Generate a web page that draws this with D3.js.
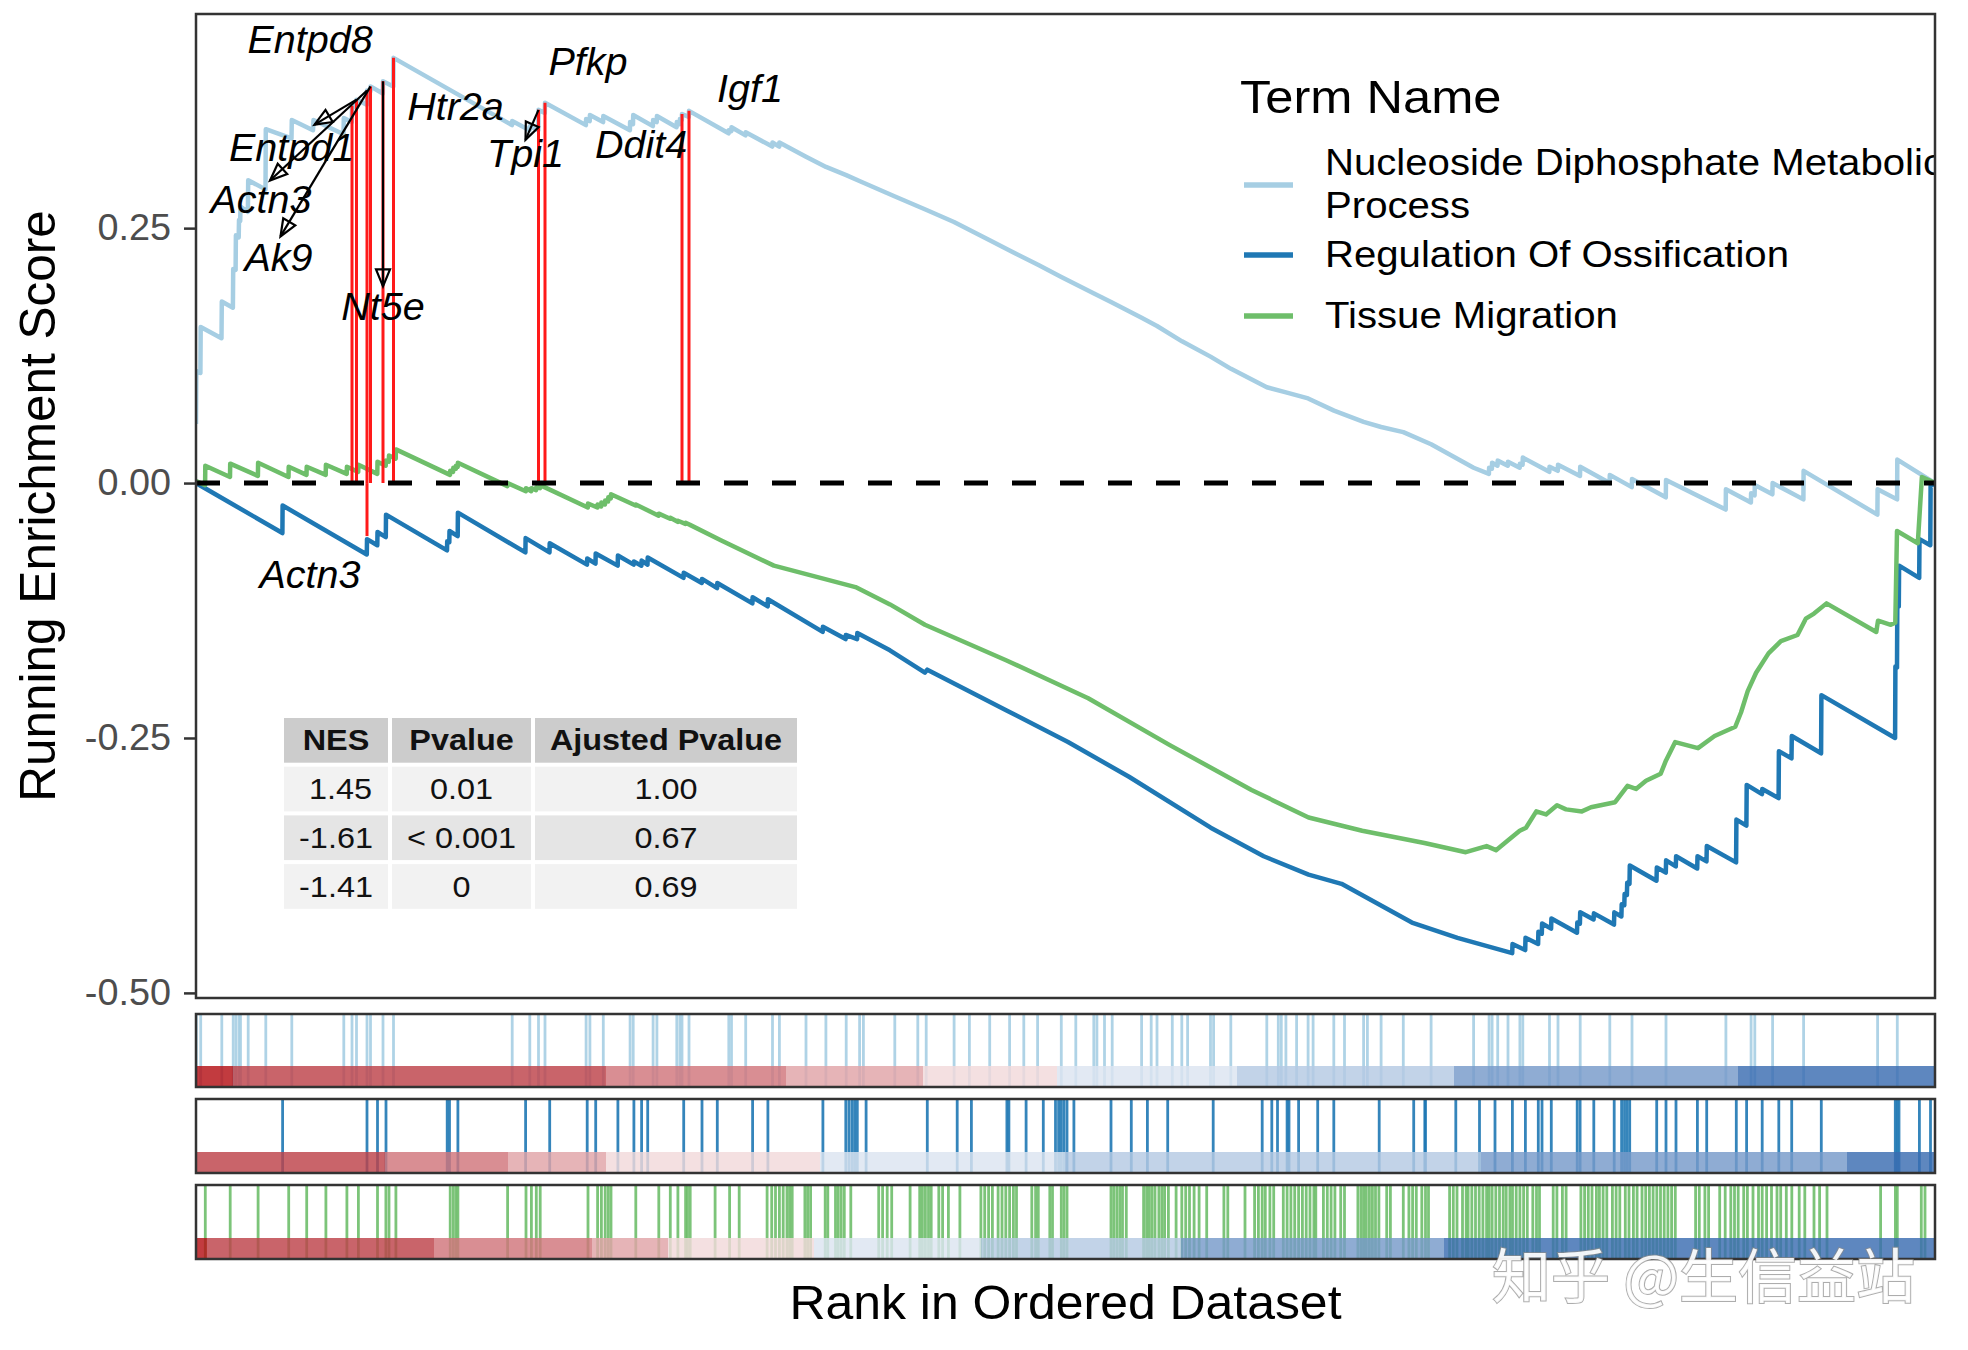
<!DOCTYPE html>
<html><head><meta charset="utf-8">
<script src="https://cdn.jsdelivr.net/npm/d3@7"></script>
<style>
html,body{margin:0;padding:0;background:#fff;}
svg{display:block;font-family:"Liberation Sans",Arial,Helvetica,sans-serif;}
</style></head><body>
<svg id="chart" width="1968" height="1350"></svg>
<script>
// ---------------- DATA ----------------
const rankCount = 17390;
const yTicks = [-0.5, -0.25, 0, 0.25];
const termNames = ["Nucleoside Diphosphate Metabolic Process", "Regulation Of Ossification", "Tissue Migration"];
const legendLines = [["Nucleoside Diphosphate Metabolic", "Process"], ["Regulation Of Ossification"], ["Tissue Migration"]];

// running enrichment score: [rank, ES]
const esNucleoside = [[0,0.058],[3,0.110],[44,0.108],[47,0.153],[255,0.142],[258,0.178],[369,0.172],[372,0.210],[396,0.209],[399,0.243],[427,0.241],[430,0.258],[442,0.257],[445,0.271],[519,0.266],[522,0.297],[695,0.288],[698,0.347],[955,0.338],[958,0.356],[1170,0.346],[1175,0.356],[1475,0.342],[1478,0.358],[1558,0.354],[1560,0.370],[1603,0.368],[1605,0.376],[1708,0.371],[1710,0.385],[1743,0.384],[1745,0.389],[1868,0.382],[1870,0.394],[1973,0.389],[1975,0.417],[3160,0.351],[3162,0.355],[3336,0.346],[3338,0.350],[3423,0.346],[3425,0.366],[3488,0.363],[3490,0.373],[3899,0.351],[3901,0.357],[3937,0.355],[3939,0.361],[4071,0.354],[4073,0.360],[4339,0.346],[4341,0.354],[4370,0.352],[4372,0.361],[4569,0.350],[4571,0.356],[4607,0.354],[4609,0.360],[4806,0.349],[4808,0.354],[4837,0.352],[4839,0.357],[4858,0.356],[4860,0.362],[4928,0.359],[4930,0.365],[5326,0.343],[5328,0.346],[5353,0.345],[5355,0.349],[5495,0.341],[5497,0.344],[5763,0.330],[5765,0.334],[5832,0.330],[5834,0.334],[6100,0.320],[6300,0.310],[6502,0.302],[6640,0.296],[6990,0.281],[7300,0.268],[7580,0.256],[7937,0.238],[8136,0.228],[8420,0.214],[8653,0.202],[8980,0.186],[9160,0.177],[9456,0.162],[9610,0.154],[9860,0.139],[10145,0.124],[10350,0.112],[10708,0.094],[10900,0.089],[11121,0.083],[11380,0.071],[11676,0.060],[11851,0.055],[12073,0.050],[12351,0.038],[12776,0.015],[12929,0.009],[12931,0.015],[12959,0.014],[12961,0.020],[13015,0.017],[13017,0.022],[13118,0.017],[13120,0.021],[13237,0.015],[13239,0.019],[13266,0.018],[13268,0.025],[13533,0.011],[13535,0.016],[13618,0.012],[13620,0.018],[13840,0.007],[13842,0.016],[14136,0.000],[14138,0.008],[14358,-0.004],[14360,0.004],[14698,-0.014],[14700,0.003],[15297,-0.026],[15299,-0.006],[15549,-0.019],[15551,-0.010],[15586,-0.012],[15588,-0.002],[15764,-0.011],[15766,0.000],[16074,-0.016],[16076,0.012],[16814,-0.031],[16816,-0.006],[17011,-0.016],[17013,0.023],[17390,0.0]];

const esOssification = [[0,0.0],[864,-0.049],[866,-0.022],[1708,-0.070],[1710,-0.055],[1813,-0.061],[1815,-0.048],[1898,-0.053],[1900,-0.031],[2510,-0.066],[2512,-0.057],[2533,-0.058],[2535,-0.047],[2617,-0.052],[2619,-0.029],[3294,-0.068],[3296,-0.054],[3535,-0.068],[3537,-0.059],[3910,-0.080],[3912,-0.074],[3995,-0.079],[3997,-0.069],[4217,-0.081],[4219,-0.071],[4377,-0.080],[4379,-0.077],[4454,-0.081],[4456,-0.076],[4515,-0.080],[4517,-0.073],[4875,-0.093],[4877,-0.088],[5058,-0.098],[5060,-0.094],[5211,-0.103],[5213,-0.098],[5564,-0.118],[5566,-0.112],[5717,-0.121],[5719,-0.114],[6267,-0.146],[6269,-0.141],[6496,-0.153],[6498,-0.149],[6611,-0.153],[6613,-0.147],[6939,-0.164],[7289,-0.186],[7313,-0.183],[8106,-0.223],[8720,-0.254],[9330,-0.288],[10147,-0.338],[10677,-0.366],[11126,-0.384],[11455,-0.393],[12159,-0.431],[12615,-0.446],[13162,-0.461],[13165,-0.452],[13292,-0.458],[13295,-0.446],[13421,-0.452],[13424,-0.440],[13458,-0.442],[13461,-0.432],[13551,-0.437],[13554,-0.427],[13810,-0.441],[13813,-0.431],[13839,-0.432],[13842,-0.421],[13976,-0.428],[13979,-0.422],[14180,-0.433],[14183,-0.421],[14254,-0.425],[14257,-0.413],[14283,-0.414],[14286,-0.403],[14309,-0.404],[14312,-0.392],[14335,-0.393],[14338,-0.375],[14605,-0.390],[14608,-0.377],[14698,-0.382],[14701,-0.370],[14798,-0.376],[14801,-0.366],[15012,-0.378],[15015,-0.366],[15105,-0.371],[15108,-0.356],[15401,-0.372],[15404,-0.330],[15504,-0.336],[15507,-0.296],[15660,-0.305],[15663,-0.300],[15826,-0.309],[15829,-0.263],[15955,-0.270],[15958,-0.248],[16251,-0.265],[16254,-0.208],[16991,-0.250],[16994,-0.180],[17010,-0.181],[17013,-0.120],[17028,-0.121],[17031,-0.081],[17232,-0.093],[17235,-0.055],[17343,-0.061],[17346,-0.003],[17390,0.0]];

const esMigration = [[0,0.002],[91,-0.002],[93,0.017],[340,0.006],[342,0.019],[619,0.007],[621,0.020],[925,0.006],[927,0.016],[1105,0.008],[1107,0.016],[1297,0.008],[1299,0.018],[1507,0.009],[1509,0.016],[1622,0.011],[1624,0.018],[1813,0.009],[1815,0.021],[1897,0.017],[1899,0.022],[1928,0.021],[1930,0.027],[1997,0.024],[1999,0.033],[2540,0.008],[2542,0.012],[2571,0.011],[2573,0.015],[2598,0.014],[2600,0.017],[2617,0.016],[2619,0.020],[3114,-0.003],[3116,0.000],[3298,-0.008],[3300,-0.005],[3352,-0.008],[3354,-0.005],[3401,-0.007],[3403,-0.004],[3440,-0.005],[3442,-0.002],[3918,-0.024],[3920,-0.020],[4014,-0.024],[4016,-0.021],[4052,-0.023],[4054,-0.019],[4090,-0.021],[4092,-0.017],[4121,-0.018],[4123,-0.014],[4148,-0.015],[4150,-0.011],[4396,-0.022],[4398,-0.021],[4626,-0.032],[4628,-0.030],[4741,-0.035],[4743,-0.034],[4817,-0.038],[4819,-0.037],[4894,-0.040],[4896,-0.039],[4940,-0.041],[5248,-0.056],[5779,-0.081],[6595,-0.102],[6940,-0.119],[7289,-0.139],[8106,-0.174],[8922,-0.211],[9738,-0.257],[10555,-0.301],[11126,-0.328],[11662,-0.341],[12284,-0.353],[12698,-0.362],[12906,-0.356],[13000,-0.360],[13100,-0.352],[13237,-0.341],[13300,-0.338],[13403,-0.322],[13500,-0.325],[13610,-0.316],[13700,-0.320],[13859,-0.322],[13950,-0.318],[14191,-0.313],[14315,-0.297],[14400,-0.300],[14500,-0.292],[14647,-0.285],[14700,-0.272],[14792,-0.254],[15020,-0.260],[15186,-0.248],[15393,-0.239],[15450,-0.225],[15517,-0.204],[15601,-0.186],[15725,-0.167],[15849,-0.155],[16015,-0.149],[16098,-0.133],[16180,-0.128],[16305,-0.118],[16803,-0.146],[16820,-0.135],[16948,-0.139],[16993,-0.137],[17010,-0.047],[17218,-0.059],[17259,0.006],[17390,0.0]];

// gene-set member positions (ranks)
const hitsNucleoside = [3,47,258,372,399,430,445,522,698,958,1478,1560,1605,1710,1745,1870,1975,3162,3338,3425,3490,3901,3939,4073,4341,4372,4571,4609,4808,4839,4860,4930,5328,5355,5497,5765,5834,6100,6299,6502,6636,6674,6988,7218,7302,7581,7734,7937,8136,8278,8416,8653,8798,8978,9009,9085,9162,9456,9552,9610,9763,9858,9916,10145,10176,10348,10708,10823,10853,10899,11006,11121,11171,11378,11485,11676,11714,11851,12073,12351,12776,12931,12961,13017,13120,13239,13268,13535,13620,13842,14138,14360,14700,15299,15551,15588,15766,16076,16816,17013];
const hitsOssification = [866,1710,1815,1900,2512,2535,2619,3296,3537,3912,3997,4219,4379,4456,4517,4877,5060,5213,5566,5719,6269,6498,6529,6559,6586,6613,6701,7313,7612,7754,8109,8129,8301,8473,8595,8626,8653,8680,8710,8779,9150,9353,9514,9717,10172,10662,10758,10815,10911,10930,11026,11217,11378,11832,12177,12288,12295,12598,12835,12990,13164,13294,13423,13460,13553,13812,13841,13978,14182,14256,14285,14311,14337,14607,14700,14800,15014,15107,15403,15506,15662,15828,15957,16253,16993,17012,17030,17234,17345];
const hitsMigration = [93,342,621,927,1107,1299,1509,1624,1815,1899,1930,1999,2542,2573,2600,2619,3116,3300,3354,3403,3442,3920,4016,4054,4092,4123,4150,4398,4628,4743,4819,4896,4915,4942,5191,5336,5432,5711,5757,5795,5834,5872,5910,5936,5962,6089,6116,6146,6292,6318,6395,6422,6452,6483,6548,6827,6866,6912,6957,7141,7237,7264,7294,7325,7352,7428,7466,7524,7639,7849,7887,7926,7964,8021,8060,8098,8136,8174,8205,8358,8396,8423,8538,8565,8653,8680,8710,9150,9177,9208,9238,9265,9303,9476,9506,9533,9560,9590,9629,9659,9686,9724,9801,9858,9897,9935,9981,10031,10107,10279,10318,10490,10586,10624,10662,10693,10739,10777,10873,10911,10949,10987,11026,11064,11102,11140,11179,11198,11274,11313,11351,11389,11447,11485,11619,11650,11676,11703,11734,11764,11795,11829,11907,11944,12073,12129,12166,12203,12258,12295,12325,12536,12573,12610,12665,12702,12721,12758,12795,12832,12869,12906,12931,12961,12998,13035,13072,13102,13139,13165,13202,13239,13276,13313,13368,13405,13435,13572,13609,13664,13701,13849,13886,13923,13960,14004,14034,14071,14108,14164,14201,14238,14293,14330,14374,14411,14460,14497,14534,14571,14608,14645,14682,14719,14756,14793,14996,15033,15089,15126,15237,15292,15348,15385,15422,15477,15514,15570,15625,15662,15706,15755,15810,15847,15903,15958,16032,16088,16180,16236,16310,16846,16994,17013,17253,17290];

// rank heat-strip bins: breaks (ranks) and colour level per bin
const heatBreaksNucleoside = [0,376,4100,5900,7270,8610,10410,12580,15420,17390];
const heatLevelsNucleoside = [1,2,3,4,5,6,7,8,9];
const heatBreaksOssification = [0,1890,3120,4100,6240,8690,12850,16510,17390];
const heatLevelsOssification = [2,3,4,5,6,7,8,9];
const heatBreaksMigration = [0,110,2380,3960,4720,6180,7850,9850,12480,17390];
const heatLevelsMigration = [1,2,3,4,5,6,7,8,9];

// labelled genes
const geneNames = ["Entpd8","Entpd1","Actn3","Ak9","Nt5e","Htr2a","Tpi1","Pfkp","Ddit4","Igf1","Actn3"];
const geneRanks = [1560,1605,1710,1745,1870,1975,3425,3490,4860,4930,1710];
const geneES    = [0.370,0.376,0.385,0.389,0.394,0.417,0.366,0.373,0.362,0.365,-0.052];
const geneSet   = [0,0,0,0,0,0,0,0,0,0,1];

// statistics table
const tableHeader = ["NES","Pvalue","Ajusted Pvalue"];
const nesValues = [" 1.45","-1.61","-1.41"];
const pValues = ["0.01","< 0.001","0"];
const padjValues = ["1.00","0.67","0.69"];

// ---------------- STYLE / LAYOUT ----------------
const termColors = ["#A6CEE3","#1F78B4","#6EBE6A"];
const heatPalette = {1:"#C23B3F",2:"#C9646A",3:"#D98E93",4:"#E6B4B7",5:"#F4E0E1",6:"#E2E9F3",7:"#C2D3E8",8:"#8FACD3",9:"#5E87BF"};
const P = {left:196, right:1935, top:14, bottom:998};
const rugPanels = [{top:1014,bottom:1087},{top:1099,bottom:1173},{top:1185,bottom:1259}];
const stripH = 21;
const labelOffsets = [[-42,-53],[-65,61],[-106,123],[-92,185],[0,239],[62,62],[-13,57],[43,-28],[-41,44],[61,-9],[-57,52]];
const arrowEnds = {1:[-42,25], 2:[-97,90], 3:[-90,150], 4:[0,205], 6:[-13,30]};

// horizontal glyph stretch (the reference text is slightly wide)
function placeText(sel, px, py, sx){
  sel.attr("x",0).attr("y",0).attr("transform",`translate(${px},${py}) scale(${sx},1)`);
  return sel;
}

const svg = d3.select("#chart");
svg.append("rect").attr("width",1968).attr("height",1350).attr("fill","#fff");

const x = d3.scaleLinear().domain([0, rankCount]).range([P.left, P.right]);
const y = d3.scaleLinear().domain([-0.505, 0.460]).range([P.bottom, P.top]);

const defs = svg.append("defs");
defs.append("clipPath").attr("id","clipMain").append("rect")
  .attr("x",P.left).attr("y",P.top).attr("width",P.right-P.left).attr("height",P.bottom-P.top);

const main = svg.append("g").attr("clip-path","url(#clipMain)");
const line = d3.line().x(d=>x(d[0])).y(d=>y(d[1]));
[esNucleoside, esOssification, esMigration].forEach((c,i)=>{
  main.append("path").datum(c).attr("d",line).attr("fill","none")
    .attr("stroke",termColors[i]).attr("stroke-width",4.5).attr("stroke-linejoin","round");
});

geneNames.forEach((g,i)=>{
  main.append("line").attr("x1",x(geneRanks[i])).attr("x2",x(geneRanks[i]))
    .attr("y1",y(0)).attr("y2",y(geneES[i]))
    .attr("stroke","#FF1A1A").attr("stroke-width",3);
});

main.append("line").attr("x1",P.left).attr("x2",P.right).attr("y1",y(0)).attr("y2",y(0))
  .attr("stroke","#000").attr("stroke-width",5).attr("stroke-dasharray","24,24");

Object.keys(arrowEnds).forEach(k=>{
  const i = +k;
  const x0 = x(geneRanks[i]), y0 = y(geneES[i]);
  const x1 = x0 + arrowEnds[k][0], y1 = y0 + arrowEnds[k][1];
  main.append("line").attr("x1",x0).attr("y1",y0).attr("x2",x1).attr("y2",y1)
    .attr("stroke","#000").attr("stroke-width",2.2);
  const ang = Math.atan2(y1-y0, x1-x0), L = 17, Wd = 7;
  const bx = x1 - L*Math.cos(ang), by = y1 - L*Math.sin(ang);
  const px = -Math.sin(ang)*Wd, py = Math.cos(ang)*Wd;
  main.append("path").attr("d",`M${bx+px},${by+py}L${x1},${y1}L${bx-px},${by-py}Z`)
    .attr("fill","none").attr("stroke","#000").attr("stroke-width",2.2);
});

geneNames.forEach((g,i)=>{
  const t = main.append("text").attr("text-anchor","middle").attr("font-style","italic")
    .attr("font-size",38).attr("fill","#000").text(g);
  placeText(t, x(geneRanks[i])+labelOffsets[i][0], y(geneES[i])+labelOffsets[i][1], 1.04);
});

// table
const tbl = svg.append("g");
const colX = [282, 390, 533, 799];
const rowY = [716, 764.7, 813.4, 862.1, 910.8];
const rows = [tableHeader].concat(nesValues.map((v,i)=>[v,pValues[i],padjValues[i]]));
const rowFill = ["#CCCCCC","#F2F2F2","#E5E5E5","#F2F2F2"];
rows.forEach((r,ri)=>{
  r.forEach((v,ci)=>{
    tbl.append("rect").attr("x",colX[ci]+2).attr("y",rowY[ri]+2)
      .attr("width",colX[ci+1]-colX[ci]-4).attr("height",rowY[ri+1]-rowY[ri]-4).attr("fill",rowFill[ri]);
    const t = tbl.append("text").attr("text-anchor","middle").attr("dominant-baseline","central")
      .attr("font-size",30).attr("font-weight",ri===0?"bold":"normal")
      .style("white-space","pre").attr("fill","#111").text(v);
    placeText(t, (colX[ci]+colX[ci+1])/2, (rowY[ri]+rowY[ri+1])/2, 1.08);
  });
});

// legend (clipped by panel)
const leg = main.append("g");
placeText(leg.append("text").attr("font-size",46).attr("fill","#000").text("Term Name"), 1240, 113, 1.10);
const keyY = [185,255,316];
const labelBase = [[175,218],[267],[328]];
legendLines.forEach((ls,i)=>{
  leg.append("line").attr("x1",1244).attr("x2",1293).attr("y1",keyY[i]).attr("y2",keyY[i])
    .attr("stroke",termColors[i]).attr("stroke-width",5.5);
  ls.forEach((t,j)=>{
    placeText(leg.append("text").attr("font-size",37).attr("fill","#000").text(t), 1325, labelBase[i][j], 1.085);
  });
});

svg.append("rect").attr("x",P.left).attr("y",P.top).attr("width",P.right-P.left).attr("height",P.bottom-P.top)
  .attr("fill","none").attr("stroke","#333").attr("stroke-width",2.5);

// y axis
const yAxis = d3.axisLeft(y).tickValues(yTicks).tickFormat(d=>d.toFixed(2)).tickSizeInner(12).tickSizeOuter(0).tickPadding(13);
const ya = svg.append("g").attr("transform",`translate(${P.left},0)`).call(yAxis);
ya.select(".domain").remove();
ya.selectAll(".tick line").attr("stroke","#333").attr("stroke-width",2.5);
ya.selectAll(".tick text").attr("font-size",36).attr("fill","#4D4D4D")
  .attr("font-family","Liberation Sans, Arial, sans-serif")
  .each(function(){ const t=d3.select(this); const xx=+t.attr("x"); t.attr("x",0).attr("transform",`translate(${xx},0) scale(1.05,1)`); });

// axis titles
svg.append("text").attr("transform","translate(55,506) rotate(-90)").attr("text-anchor","middle")
  .attr("font-size",49.5).attr("fill","#000").text("Running Enrichment Score");
placeText(svg.append("text").attr("text-anchor","middle").attr("font-size",48).attr("fill","#000")
  .text("Rank in Ordered Dataset"), (P.left+P.right)/2, 1319, 1.04);

// rug panels
const hitsAll = [hitsNucleoside, hitsOssification, hitsMigration];
const breaksAll = [heatBreaksNucleoside, heatBreaksOssification, heatBreaksMigration];
const levelsAll = [heatLevelsNucleoside, heatLevelsOssification, heatLevelsMigration];
const stripAlpha = 0.82;
function under(hex){const c=d3.rgb(hex);const f=v=>Math.max(0,Math.min(255,255-(255-v)/stripAlpha));return d3.rgb(f(c.r),f(c.g),f(c.b)).formatHex();}
rugPanels.forEach((rp,i)=>{
  defs.append("clipPath").attr("id","clipRug"+i).append("rect")
    .attr("x",P.left).attr("y",rp.top).attr("width",P.right-P.left).attr("height",rp.bottom-rp.top);
  const g = svg.append("g").attr("clip-path",`url(#clipRug${i})`);
  g.selectAll("line.hit").data(hitsAll[i]).enter().append("line").attr("class","hit")
    .attr("x1",d=>x(d)).attr("x2",d=>x(d)).attr("y1",rp.top).attr("y2",rp.bottom)
    .attr("stroke",termColors[i]).attr("stroke-width",2.8).attr("stroke-opacity",0.9);
  const br = breaksAll[i], lv = levelsAll[i];
  g.selectAll("rect.bin").data(lv).enter().append("rect").attr("class","bin")
    .attr("x",(d,j)=>x(br[j])).attr("width",(d,j)=>x(br[j+1])-x(br[j]))
    .attr("y",rp.bottom-stripH).attr("height",stripH)
    .attr("fill",d=>under(heatPalette[d])).attr("fill-opacity",stripAlpha);
  svg.append("rect").attr("x",P.left).attr("y",rp.top).attr("width",P.right-P.left).attr("height",rp.bottom-rp.top)
    .attr("fill","none").attr("stroke","#333").attr("stroke-width",2.5);
});

// watermark
svg.append("text").attr("x",1492).attr("y",1298).attr("font-family","Noto Sans CJK SC, sans-serif")
  .attr("font-size",59).attr("fill","#fff").attr("fill-opacity",0.92)
  .attr("stroke","#8a8a8a").attr("stroke-width",2).attr("stroke-opacity",0.7)
  .style("paint-order","stroke").text("知乎 @生信益站");
</script></body></html>
